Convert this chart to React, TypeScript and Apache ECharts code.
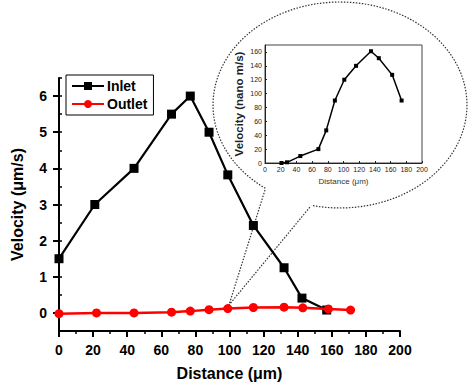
import React, { useEffect, useRef } from "react";
import * as echarts from "echarts";

const inletX = [0, 21, 44, 66, 77, 88, 99, 114, 132, 142.5, 157];
const inletY = [1.5, 3.0, 4.0, 5.5, 6.0, 5.0, 3.82, 2.42, 1.25, 0.41, 0.08];
const outletX = [0, 22, 44, 66, 77, 88, 99, 114, 132, 143, 158, 171];
const outletY = [-0.02, 0.0, 0.0, 0.02, 0.05, 0.09, 0.12, 0.15, 0.16, 0.14, 0.11, 0.08];
const insetX = [21, 28, 45, 68, 78, 89, 101, 116, 135, 145, 162, 174];
const insetY = [0, 1, 10, 20, 47, 90, 120, 140, 161, 151, 127, 90];
const mainYTicks = [0, 1, 2, 3, 4, 5, 6];

const FONT = "'Liberation Sans', Arial, sans-serif";

function ellipsePoints(cx: number, cy: number, rx: number, ry: number, a0: number, a1: number) {
  const pts: number[][] = [];
  const n = 120;
  for (let i = 0; i <= n; i++) {
    const a = ((a0 + ((a1 - a0) * i) / n) * Math.PI) / 180;
    pts.push([cx + rx * Math.cos(a), cy + ry * Math.sin(a)]);
  }
  return pts;
}

export default function App() {
  const ref = useRef<HTMLDivElement>(null);
  useEffect(() => {
    if (!ref.current) return;
    const chart = echarts.init(ref.current, null, { renderer: "svg" });
    const cx = 340, cy = 105, rx = 127, ry = 103;
    const p1 = [265, 190];
    const p2 = [310, 207];
    const tip = [229, 305];
    const dash = { stroke: "#333", lineWidth: 1.2, lineDash: [1.5, 1.5], fill: null };
    chart.setOption({
      animation: false,
      backgroundColor: "#fff",
      textStyle: { fontFamily: FONT },
      graphic: [
        { type: "polyline", shape: { points: ellipsePoints(cx, cy, rx, ry, 126, 463) }, style: dash, z: 1 },
        { type: "polyline", shape: { points: [p1, tip, p2] }, style: dash, z: 1 },
      ],
      legend: {
        left: 66,
        top: 75,
        orient: "vertical",
        borderColor: "#000",
        borderWidth: 1,
        borderRadius: 0,
        padding: [4, 6, 4, 5],
        itemGap: 4,
        itemWidth: 32,
        itemHeight: 10,
        selectedMode: false,
        textStyle: { fontFamily: FONT, fontWeight: "bold", fontSize: 14, color: "#000", padding: [0, 0, 0, -2] },
        data: ["Inlet", "Outlet"],
      },
      grid: [
        { left: 59, right: 74, top: 78, bottom: 54, containLabel: false },
        { left: 265, right: 52, top: 45, bottom: 223, show: true, borderColor: "#444", borderWidth: 1, backgroundColor: "transparent" },
      ],
      xAxis: [
        {
          type: "value", gridIndex: 0, min: 0, max: 200, interval: 20,
          name: "Distance (μm)", nameLocation: "middle", nameGap: 34,
          nameTextStyle: { fontFamily: FONT, fontWeight: "bold", fontSize: 16, color: "#000" },
          axisLine: { onZero: false, lineStyle: { color: "#000", width: 2 } },
          axisTick: { length: 6, lineStyle: { color: "#000", width: 2 } },
          minorTick: { show: true, splitNumber: 2, length: 3, lineStyle: { color: "#000", width: 1.5 } },
          axisLabel: { fontFamily: FONT, fontWeight: "bold", fontSize: 14, color: "#000", margin: 12 },
          splitLine: { show: false },
        },
        {
          type: "value", gridIndex: 1, min: 0, max: 200, interval: 20,
          name: "Distance (μm)", nameLocation: "middle", nameGap: 14,
          nameTextStyle: { fontFamily: FONT, fontSize: 8, color: "#333" },
          axisLine: { onZero: false, lineStyle: { color: "#222", width: 1 } },
          axisTick: { inside: true, length: 2, lineStyle: { color: "#222" } },
          axisLabel: { fontFamily: FONT, fontSize: 7, color: "#222", margin: 3 },
          splitLine: { show: false },
        },
      ],
      yAxis: [
        {
          type: "value", gridIndex: 0, min: -0.5, max: 6.5,
          name: "Velocity (μm/s)", nameLocation: "middle", nameGap: 34,
          nameTextStyle: { fontFamily: FONT, fontWeight: "bold", fontSize: 16, color: "#000" },
          axisLine: { show: true, onZero: false, lineStyle: { color: "#000", width: 2 } },
          axisTick: { show: true, length: 6, customValues: mainYTicks, lineStyle: { color: "#000", width: 2 } },
          axisLabel: { fontFamily: FONT, fontWeight: "bold", fontSize: 14, color: "#000", margin: 12, customValues: mainYTicks },
          splitLine: { show: false },
        },
        {
          type: "value", gridIndex: 0, min: -0.5, max: 6.5, interval: 0.5,
          axisLine: { show: false },
          axisTick: { show: true, length: 3, lineStyle: { color: "#000", width: 1.5 } },
          axisLabel: { show: false },
          splitLine: { show: false },
        },
        {
          type: "value", gridIndex: 1, min: 0, max: 170, interval: 20,
          name: "Velocity (nano m/s)", nameLocation: "middle", nameGap: 20,
          nameTextStyle: { fontFamily: FONT, fontWeight: "bold", fontSize: 11.5, color: "#222" },
          axisLine: { show: true, lineStyle: { color: "#222", width: 1 } },
          axisTick: { inside: true, length: 2, lineStyle: { color: "#222" } },
          axisLabel: { fontFamily: FONT, fontSize: 7, color: "#222", margin: 3, showMaxLabel: false },
          splitLine: { show: false },
        },
      ],
      series: [
        {
          name: "Inlet", type: "line", xAxisIndex: 0, yAxisIndex: 0,
          data: inletX.map((x, i) => [x, inletY[i]]),
          symbol: "rect", symbolSize: 9, color: "#000",
          lineStyle: { color: "#000", width: 2.2 },
          itemStyle: { color: "#000" }, z: 3,
        },
        {
          name: "Outlet", type: "line", xAxisIndex: 0, yAxisIndex: 0,
          data: outletX.map((x, i) => [x, outletY[i]]),
          symbol: "circle", symbolSize: 9, color: "#ff0000",
          lineStyle: { color: "#ff0000", width: 2.5 },
          itemStyle: { color: "#ff0000" }, z: 4,
        },
        {
          name: "inset", type: "line", xAxisIndex: 1, yAxisIndex: 2,
          data: insetX.map((x, i) => [x, insetY[i]]),
          symbol: "rect", symbolSize: 4, color: "#000",
          lineStyle: { color: "#000", width: 1.5 },
          itemStyle: { color: "#000" },
        },
      ],
    });
    return () => chart.dispose();
  }, []);
  return <div ref={ref} style={{ width: 474, height: 386, position: "absolute", left: 0, top: 0 }} />;
}
